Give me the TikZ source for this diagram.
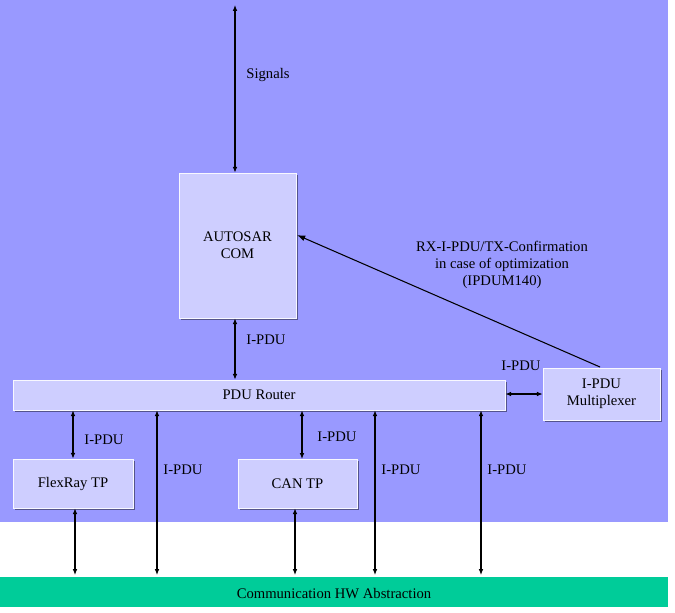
\documentclass[tikz,border=0pt]{standalone}
\usepackage{fontspec}
\setmainfont{Liberation Serif}
\usetikzlibrary{arrows.meta,shadows}
\definecolor{bgp}{RGB}{153,153,255}
\definecolor{boxc}{RGB}{206,206,255}
\definecolor{grn}{RGB}{0,204,153}
\begin{document}
\begin{tikzpicture}[x=0.03cm,y=-0.03cm,
  box/.style={draw=white!85!boxc,fill=boxc,line width=0.6pt,drop shadow={shadow xshift=2pt,shadow yshift=-2pt,fill=black!45!bgp,opacity=1}},
  arr/.style={{Latex[length=5pt,width=4pt]}-{Latex[length=5pt,width=4pt]},line width=0.9pt},
  lbl/.style={inner sep=1pt},
  every node/.style={font=\fontsize{12.5}{14.5}\selectfont}]
\useasboundingbox (0,0) rectangle (675,612);
\fill[bgp] (0,0) rectangle (668,522);
\fill[grn] (0,577) rectangle (668,607);
\node (hw) at (334,594) {Communication HW Abstraction};
\node[box,minimum width=3.51cm,minimum height=4.35cm,align=center] (com) at (237.5,245.5) {AUTOSAR\\COM};
\node[box,minimum width=14.76cm,minimum height=0.9cm] (pdur) at (259,395) {PDU Router};
\node[box,minimum width=3.51cm,minimum height=1.56cm,align=center] (mux) at (601.5,394) {I-PDU\\Multiplexer};
\node[box,minimum width=3.6cm,minimum height=1.47cm] (fr) at (73,483.5) {FlexRay TP};
\node[box,minimum width=3.57cm,minimum height=1.47cm] (can) at (297.5,483.5) {CAN TP};
\coordinate (top) at (235,5);
\draw[arr] (top) -- (com.north -| top);
\node[lbl,anchor=west] at (245,75) {Signals};
\draw[arr] (com.south -| top) -- (pdur.north -| top);
\node[lbl,anchor=west] at (245,340) {I-PDU};
\draw[arr] (pdur.east |- mux) -- (mux.west);
\node[lbl] at (521,366) {I-PDU};
\coordinate (mt) at (600,367);
\coordinate (ce) at (297,235);
\draw[-{Latex[length=7pt,width=5pt]},line width=0.9pt] (mt) -- (ce);
\node[lbl,align=center] at (502,265) {RX-I-PDU/TX-Confirmation\\in case of optimization\\(IPDUM140)};
\draw[arr] (pdur.south -| fr) -- (fr.north);
\node[lbl,anchor=west] at (83,440) {I-PDU};
\coordinate (ct) at (302,459);
\draw[arr] (pdur.south -| ct) -- (ct);
\node[lbl,anchor=west] at (316,437) {I-PDU};
\foreach \x/\n in {157/a,375/b,481/c}{
  \coordinate (b\n) at (\x,575);
  \draw[arr] (pdur.south -| b\n) -- (b\n);
  \node[lbl,anchor=west] at (\x+5,470) {I-PDU};
}
\coordinate (f1) at (75,575);
\draw[arr] (fr.south -| f1) -- (f1);
\coordinate (c1) at (295,575);
\draw[arr] (can.south -| c1) -- (c1);
\end{tikzpicture}
\end{document}
